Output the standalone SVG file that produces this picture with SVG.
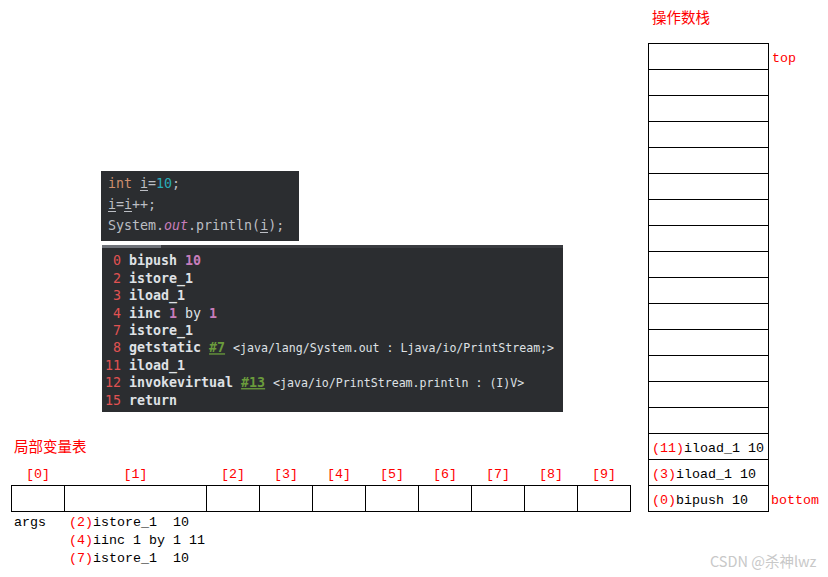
<svg xmlns="http://www.w3.org/2000/svg" width="828" height="577" viewBox="0 0 828 577">
<style>
.bg{fill:#ffffff}
.cell{fill:#ffffff;stroke:#000000;stroke-width:1}
.title{font-family:"Noto Sans CJK SC","Noto Sans",sans-serif;font-size:14.5px;fill:#ff0000}
.mono{font-family:"Liberation Mono",monospace;font-size:13.33px;fill:#000000}
.red{fill:#ff0000}
.idx{font-family:"Liberation Mono",monospace;font-size:13.33px;fill:#ff0000;text-anchor:middle}
.code{font-family:"DejaVu Sans Mono",monospace;font-size:13.3px;fill:#BCBEC4}
.kw{fill:#CF8E6D}
.num{fill:#2AACB8}
.fld{fill:#C77DBB;font-style:italic}
.bc{font-family:"DejaVu Sans Mono",monospace;font-size:13.3px;font-weight:bold;fill:#DFE1E5}
.ln{font-family:"DejaVu Sans Mono",monospace;font-size:13.3px;fill:#E05252;text-anchor:end}
.bnum{fill:#C77DBB}
.plain{font-weight:normal}
.ref{fill:#6A9B3C;text-decoration:underline}
.cmt{font-family:"DejaVu Sans Mono",monospace;font-size:11.6px;font-weight:normal;fill:#DFE1E5}
.wm{font-family:"Noto Sans CJK SC","Noto Sans",sans-serif;font-size:14.5px;fill:#c8c8c8}
.ul{stroke:#BCBEC4;stroke-width:1}
</style>
<rect class="bg" x="0" y="0" width="828" height="577"/>

<g id="source-code">
  <rect x="101" y="171" width="198" height="70" fill="#2B2D30"/>
  <text class="code" x="108" y="188"><tspan class="kw">int</tspan> i=<tspan class="num">10</tspan>;</text>
  <line class="ul" x1="140" y1="190.5" x2="148" y2="190.5"/>
  <text class="code" x="108" y="209">i=i++;</text>
  <line class="ul" x1="108" y1="211.5" x2="116" y2="211.5"/>
  <line class="ul" x1="124" y1="211.5" x2="132" y2="211.5"/>
  <text class="code" x="108" y="230">System.<tspan class="fld">out</tspan>.println(i);</text>
  <line class="ul" x1="260" y1="232.5" x2="268" y2="232.5"/>
</g>

<g id="bytecode">
  <rect x="102" y="246" width="461" height="166" fill="#2B2D30"/>
  <rect x="102" y="245" width="461" height="3" fill="#3A3C40"/>
  <rect x="102" y="245" width="59" height="3" fill="#6F737A"/>
  <text class="ln" x="121" y="265.3">0</text>
  <text class="bc" x="129" y="265.3">bipush <tspan class="bnum">10</tspan></text>
  <text class="ln" x="121" y="282.7">2</text>
  <text class="bc" x="129" y="282.7">istore_1</text>
  <text class="ln" x="121" y="300.1">3</text>
  <text class="bc" x="129" y="300.1">iload_1</text>
  <text class="ln" x="121" y="317.5">4</text>
  <text class="bc" x="129" y="317.5">iinc <tspan class="bnum">1</tspan> <tspan class="plain">by</tspan> <tspan class="bnum">1</tspan></text>
  <text class="ln" x="121" y="334.9">7</text>
  <text class="bc" x="129" y="334.9">istore_1</text>
  <text class="ln" x="121" y="352.3">8</text>
  <text class="bc" x="129" y="352.3">getstatic <tspan class="ref">#7</tspan></text>
  <text class="cmt" x="233" y="352.3">&lt;java/lang/System.out : Ljava/io/PrintStream;&gt;</text>
  <text class="ln" x="121" y="369.7">11</text>
  <text class="bc" x="129" y="369.7">iload_1</text>
  <text class="ln" x="121" y="387.1">12</text>
  <text class="bc" x="129" y="387.1">invokevirtual <tspan class="ref">#13</tspan></text>
  <text class="cmt" x="273" y="387.1">&lt;java/io/PrintStream.println : (I)V&gt;</text>
  <text class="ln" x="121" y="404.5">15</text>
  <text class="bc" x="129" y="404.5">return</text>
</g>

<g id="operand-stack">
  <text class="title" x="652" y="23">操作数栈</text>
  <rect class="cell" x="648.5" y="43.5" width="120" height="26"/>
  <rect class="cell" x="648.5" y="69.5" width="120" height="26"/>
  <rect class="cell" x="648.5" y="95.5" width="120" height="26"/>
  <rect class="cell" x="648.5" y="121.5" width="120" height="26"/>
  <rect class="cell" x="648.5" y="147.5" width="120" height="26"/>
  <rect class="cell" x="648.5" y="173.5" width="120" height="26"/>
  <rect class="cell" x="648.5" y="199.5" width="120" height="26"/>
  <rect class="cell" x="648.5" y="225.5" width="120" height="26"/>
  <rect class="cell" x="648.5" y="251.5" width="120" height="26"/>
  <rect class="cell" x="648.5" y="277.5" width="120" height="26"/>
  <rect class="cell" x="648.5" y="303.5" width="120" height="26"/>
  <rect class="cell" x="648.5" y="329.5" width="120" height="26"/>
  <rect class="cell" x="648.5" y="355.5" width="120" height="26"/>
  <rect class="cell" x="648.5" y="381.5" width="120" height="26"/>
  <rect class="cell" x="648.5" y="407.5" width="120" height="26"/>
  <rect class="cell" x="648.5" y="433.5" width="120" height="26"/>
  <rect class="cell" x="648.5" y="459.5" width="120" height="26"/>
  <rect class="cell" x="648.5" y="485.5" width="120" height="26"/>
  <text class="mono" x="652" y="452"><tspan class="red">(11)</tspan>iload_1 10</text>
  <text class="mono" x="652" y="478"><tspan class="red">(3)</tspan>iload_1 10</text>
  <text class="mono" x="652" y="504"><tspan class="red">(0)</tspan>bipush 10</text>
  <text class="mono red" x="772" y="62">top</text>
  <text class="mono red" x="771" y="504">bottom</text>
</g>

<g id="local-variable-table">
  <text class="title" x="14" y="452">局部变量表</text>
  <text class="idx" x="38" y="478">[0]</text>
  <text class="idx" x="135.5" y="478">[1]</text>
  <text class="idx" x="233" y="478">[2]</text>
  <text class="idx" x="286" y="478">[3]</text>
  <text class="idx" x="339" y="478">[4]</text>
  <text class="idx" x="392" y="478">[5]</text>
  <text class="idx" x="445" y="478">[6]</text>
  <text class="idx" x="498" y="478">[7]</text>
  <text class="idx" x="551" y="478">[8]</text>
  <text class="idx" x="604" y="478">[9]</text>
  <rect class="cell" x="11.5" y="485.5" width="53" height="26"/>
  <rect class="cell" x="64.5" y="485.5" width="142" height="26"/>
  <rect class="cell" x="206.5" y="485.5" width="53" height="26"/>
  <rect class="cell" x="259.5" y="485.5" width="53" height="26"/>
  <rect class="cell" x="312.5" y="485.5" width="53" height="26"/>
  <rect class="cell" x="365.5" y="485.5" width="53" height="26"/>
  <rect class="cell" x="418.5" y="485.5" width="53" height="26"/>
  <rect class="cell" x="471.5" y="485.5" width="53" height="26"/>
  <rect class="cell" x="524.5" y="485.5" width="53" height="26"/>
  <rect class="cell" x="577.5" y="485.5" width="53" height="26"/>
  <text class="mono" x="14" y="526" xml:space="preserve">args</text>
  <text class="mono" x="69" y="526" xml:space="preserve"><tspan class="red">(2)</tspan>istore_1  10</text>
  <text class="mono" x="69" y="544" xml:space="preserve"><tspan class="red">(4)</tspan>iinc 1 by 1 11</text>
  <text class="mono" x="69" y="562" xml:space="preserve"><tspan class="red">(7)</tspan>istore_1  10</text>
</g>

<g id="connectors"/>

<text class="wm" x="710" y="567">CSDN @杀神lwz</text>
</svg>
